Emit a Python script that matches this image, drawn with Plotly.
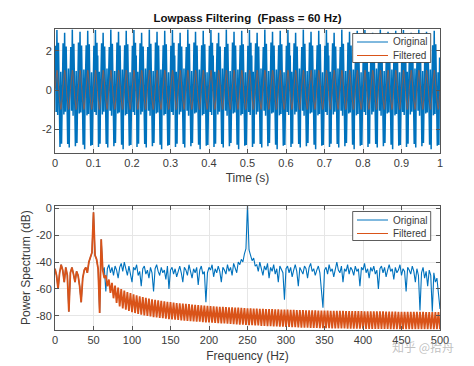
import plotly.graph_objects as go

# ---------------- time-domain data (fs = 1 kHz, 0..1 s) ----------------
sample_rate_hz = 1000
n_samples = 1001
# five 20-ms cycles of the original signal as read (50 Hz + 250 Hz, light noise)
orig_cycles = [
    0.08, 2.25, 0.66, -1.12, 0.87, 3.05, 1.02, -1.27, 0.52, 2.40, -0.06, 1.75, -0.51, -2.90, -1.03, 0.93, -0.88, -2.74, -0.67, 1.62,
    -0.11, 2.38, 0.50, -1.25, 1.04, 2.91, 0.89, -1.10, 0.68, 2.22, 0.09, 1.61, -0.66, -2.75, -0.87, 1.09, -1.04, -2.93, -0.50, 1.77,
    0.04, 2.19, 0.71, -1.06, 0.92, 3.08, 0.85, -1.31, 0.47, 2.35, -0.12, 1.80, -0.55, -2.86, -1.10, 0.97, -0.90, -2.70, -0.63, 1.58,
    -0.05, 2.42, 0.55, -1.20, 0.99, 2.96, 1.07, -1.15, 0.63, 2.27, 0.05, 1.64, -0.70, -2.79, -0.92, 1.05, -0.97, -3.02, -0.54, 1.73,
    0.12, 2.28, 0.60, -1.29, 0.83, 3.01, 0.93, -1.22, 0.57, 2.33, -0.02, 1.72, -0.48, -2.84, -0.99, 0.90, -0.85, -2.80, -0.60, 1.66,
]
# one 20-ms cycle of the filtered signal (50 Hz component kept)
filt_cycle = [0.02, 0.33, 0.57, 0.83, 0.94, 1.01, 0.96, 0.79, 0.60, 0.30,
              -0.01, -0.32, -0.58, -0.82, -0.96, -0.99, -0.94, -0.80, -0.60, -0.29]

time_s = [i / sample_rate_hz for i in range(n_samples)]
orig_signal = [orig_cycles[i % len(orig_cycles)] for i in range(n_samples)]
filt_signal = [filt_cycle[i % len(filt_cycle)] for i in range(n_samples)]

# ---------------- spectrum data (2 Hz grid, 0..500 Hz) ----------------
freq_hz = list(range(0, 501, 2))
# 0..60 Hz: identical for original and filtered
passband_db = [-45, -50, -60, -48, -42, -46, -55, -44, -50, -77,
               -48, -44, -49, -55, -47, -50, -58, -70, -52, -46,
               -44, -48, -40, -37, -33, -3, -35, -38, -45, -78,
               -23]
# 62..500 Hz original
orig_stop_db = [
    -47, -44, -62, -45, -42, -48, -44, -50, -43, -46,
    -52, -44, -41, -47, -40, -45, -50, -43, -48, -55,
    -44, -46, -42, -50, -47, -58, -45, -43, -49, -46,
    -52, -44, -48, -62, -45, -42, -47, -50, -44, -48,
    -46, -53, -43, -60, -46, -44, -49, -45, -51, -47,
    -43, -48, -55, -44, -46, -50, -42, -47, -52, -45,
    -48, -44, -57, -46, -43, -49, -47, -70, -48, -44,
    -46, -42, -51, -45, -48, -43, -47, -55, -44, -46,
    -49, -42, -47, -44, -50, -41, -45, -48, -40, -42,
    -38, -40, -34, -30, 3, -31, -35, -39, -37, -43,
    -42, -47, -40, -45, -50, -43, -46, -41, -52, -44,
    -47, -42, -49, -45, -55, -43, -46, -48, -68, -45,
    -43, -48, -44, -51, -46, -42, -47, -58, -44, -46,
    -49, -43, -45, -52, -44, -41, -47, -45, -50, -46,
    -43, -48, -62, -74, -46, -44, -49, -42, -47, -45,
    -51, -44, -40, -46, -48, -43, -55, -45, -47, -42,
    -49, -44, -46, -50, -43, -47, -45, -58, -44, -46,
    -41, -48, -45, -52, -44, -47, -43, -49, -46, -60,
    -45, -43, -48, -44, -51, -46, -42, -47, -45, -53,
    -44, -48, -46, -42, -50, -45, -47, -62, -44, -46,
    -49, -43, -47, -55, -45, -50, -76, -48, -44, -52,
    -47, -58, -46, -50, -77, -48, -55, -52, -64, -75,
]
# 62..500 Hz filtered: stop-band ripple crests (62, 66, ...) and troughs (64, 68, ...)
filt_ripple_hi_db = [
    -46, -50, -53, -55.5, -57.5, -59, -60.2, -61.3, -62.3, -63.2,
    -64, -64.8, -65.5, -66.1, -66.7, -67.2, -67.7, -68.1, -68.5, -68.9,
    -69.2, -69.6, -69.9, -70.2, -70.5, -70.7, -71, -71.2, -71.4, -71.7,
    -71.9, -72.1, -72.3, -72.5, -72.6, -72.8, -73, -73.1, -73.3, -73.4,
    -73.5, -73.7, -73.8, -73.9, -74, -74.1, -74.3, -74.4, -74.5, -74.6,
    -74.7, -74.8, -74.9, -75, -75, -75.1, -75.2, -75.3, -75.4, -75.4,
    -75.5, -75.6, -75.6, -75.7, -75.8, -75.8, -75.9, -75.9, -76, -76,
    -76.1, -76.1, -76.2, -76.2, -76.3, -76.3, -76.4, -76.4, -76.4, -76.5,
    -76.5, -76.5, -76.6, -76.6, -76.6, -76.7, -76.7, -76.7, -76.8, -76.8,
    -76.8, -76.8, -76.9, -76.9, -76.9, -76.9, -77, -77, -77, -77,
    -77, -77.1, -77.1, -77.1, -77.1, -77.2, -77.2, -77.2, -77.2, -77.3,
]
filt_ripple_lo_db = [
    -52, -58, -63, -67, -70.5, -73, -74.5, -75.5, -76.5, -77.3,
    -78, -78.6, -79.2, -79.7, -80.2, -80.6, -81, -81.3, -81.6, -81.9,
    -82.2, -82.5, -82.7, -83, -83.2, -83.4, -83.6, -83.8, -84, -84.2,
    -84.4, -84.5, -84.7, -84.9, -85, -85.2, -85.4, -85.5, -85.7, -85.8,
    -86, -86.1, -86.3, -86.4, -86.6, -86.7, -86.8, -87, -87.1, -87.2,
    -87.3, -87.5, -87.6, -87.7, -87.8, -87.9, -88, -88.1, -88.2, -88.3,
    -88.4, -88.5, -88.6, -88.7, -88.8, -88.8, -88.9, -89, -89, -89.1,
    -89.2, -89.2, -89.3, -89.3, -89.4, -89.4, -89.5, -89.5, -89.5, -89.6,
    -89.6, -89.6, -89.7, -89.7, -89.7, -89.8, -89.8, -89.8, -89.8, -89.9,
    -89.9, -89.9, -89.9, -90, -90, -90, -90, -90, -90, -90,
    -90, -90, -90, -90, -90, -90, -90, -90, -90, -90,
]
filt_stop_db = []
for hi, lo in zip(filt_ripple_hi_db, filt_ripple_lo_db):
    filt_stop_db += [hi, lo]

orig_db = passband_db + orig_stop_db
filt_db = passband_db + filt_stop_db

time_ticks = [0, 0.1, 0.2, 0.3, 0.4, 0.5, 0.6, 0.7, 0.8, 0.9, 1]
time_tick_text = ["0", "0.1", "0.2", "0.3", "0.4", "0.5", "0.6", "0.7", "0.8", "0.9", "1"]
amp_ticks = [-2, 0, 2]
amp_tick_text = ["-2", "0", "2"]
freq_ticks = [0, 50, 100, 150, 200, 250, 300, 350, 400, 450, 500]
db_ticks = [-80, -60, -40, -20, 0]
db_tick_text = ["-80", "-60", "-40", "-20", "0"]
series_names = ["Original", "Filtered"]

# ---------------- styling / layout ----------------
BLUE = "#0072BD"
ORANGE = "#D95319"
FONT = "Liberation Sans"
TXT = "#3a3a3a"

# the page body has an 8 px margin, so the figure starts at (8, 8)
OFF = 8
FW, FH = 466, 358


def px(x):
    return (x - OFF) / FW


def py(y):
    return 1 - (y - OFF) / FH


fig = go.Figure()
fig.add_trace(go.Scatter(x=time_s, y=orig_signal, mode="lines", name=series_names[0], showlegend=False,
                         line=dict(color=BLUE, width=1.5), xaxis="x", yaxis="y"))
fig.add_trace(go.Scatter(x=time_s, y=filt_signal, mode="lines", name=series_names[1], showlegend=False,
                         line=dict(color=ORANGE, width=0.9), opacity=0.65, xaxis="x", yaxis="y"))
fig.add_trace(go.Scatter(x=freq_hz, y=orig_db, mode="lines", name=series_names[0], showlegend=False,
                         line=dict(color=BLUE, width=1.1), xaxis="x2", yaxis="y2"))
fig.add_trace(go.Scatter(x=freq_hz, y=filt_db, mode="lines", name=series_names[1], showlegend=False,
                         line=dict(color=ORANGE, width=1.8), xaxis="x2", yaxis="y2"))

xdom = [px(55), px(440)]
top_dom = [py(152.7), py(29.3)]
bot_dom = [py(329.7), py(205.7)]

common = dict(showline=True, linecolor="#555", linewidth=1, mirror="ticks", ticks="inside",
              ticklen=4, tickcolor="#555", showgrid=True, gridcolor="#e6e6e6", gridwidth=1,
              zeroline=False, tickfont=dict(family=FONT, size=11, color=TXT), automargin=False)

# legend boxes (MATLAB style), drawn in page pixels
shapes = []
annotations = []
for box_top, colors in ((33.5, (BLUE, ORANGE)), (211.5, (BLUE, ORANGE))):
    shapes.append(dict(type="rect", xref="paper", yref="paper", x0=px(352.7), x1=px(430.7),
                       y0=py(box_top + 29), y1=py(box_top), fillcolor="white",
                       line=dict(color="#333", width=0.8), layer="above"))
    for k, (name, col) in enumerate(zip(series_names, colors)):
        yc = box_top + 8.5 + 13.5 * k
        shapes.append(dict(type="line", xref="paper", yref="paper", x0=px(357), x1=px(388),
                           y0=py(yc), y1=py(yc), line=dict(color=col, width=1), layer="above"))
        annotations.append(dict(text=name, x=px(390.5), y=py(yc), xref="paper", yref="paper",
                                xanchor="left", yanchor="middle", showarrow=False,
                                font=dict(family=FONT, size=10, color=TXT)))

annotations.append(dict(text="知乎 @拾舟", x=px(423), y=py(346), xref="paper", yref="paper",
                        xanchor="center", yanchor="middle", showarrow=False,
                        font=dict(family="Noto Sans CJK SC", size=12, color="rgba(150,150,150,0.6)")))

fig.update_layout(
    width=FW, height=FH,
    margin=dict(l=0, r=0, t=0, b=0),
    paper_bgcolor="white", plot_bgcolor="white",
    font=dict(family=FONT, color=TXT),
    showlegend=False,
    title=dict(text="Lowpass Filtering\u00a0 (Fpass = 60 Hz)", x=px(247.5), xanchor="center",
               y=py(18), yanchor="middle",
               font=dict(family=FONT, size=11.5, color="#111", weight="bold")),
    xaxis=dict(domain=xdom, anchor="y", range=[0, 1], tickvals=time_ticks, ticktext=time_tick_text,
               title=dict(text="Time (s)", standoff=5, font=dict(family=FONT, size=12, color=TXT)), **common),
    yaxis=dict(domain=top_dom, anchor="x", range=[-3.19, 3.09], tickvals=amp_ticks, ticktext=amp_tick_text, **common),
    xaxis2=dict(domain=xdom, anchor="y2", range=[0, 500], tickvals=freq_ticks,
                title=dict(text="Frequency (Hz)", standoff=6, font=dict(family=FONT, size=12, color=TXT)), **common),
    yaxis2=dict(domain=bot_dom, anchor="x2", range=[-90.4, 1.94], tickvals=db_ticks, ticktext=db_tick_text,
                title=dict(text="Power Spectrum (dB)", standoff=2, font=dict(family=FONT, size=12, color=TXT)), **common),
    shapes=shapes,
    annotations=annotations,
)

fig.write_html("out.html")
